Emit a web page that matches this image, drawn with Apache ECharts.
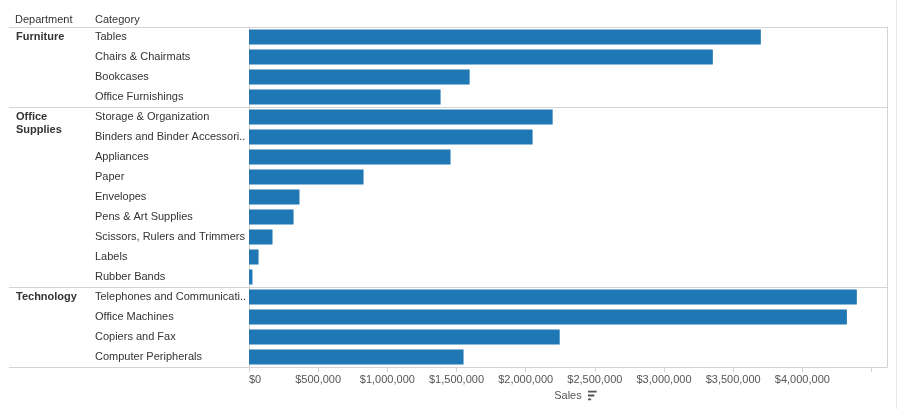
<!DOCTYPE html>
<html>
<head>
<meta charset="utf-8">
<script src="https://cdn.jsdelivr.net/npm/echarts@6/dist/echarts.min.js"></script>
<style>
  html, body { margin: 0; padding: 0; background: #fff; }
  #chart { width: 899px; height: 409px; }
</style>
</head>
<body>
<div id="chart"></div>
<script>
const categories = [
  'Tables', 'Chairs & Chairmats', 'Bookcases', 'Office Furnishings',
  'Storage & Organization', 'Binders and Binder Accessori..', 'Appliances', 'Paper',
  'Envelopes', 'Pens & Art Supplies', 'Scissors, Rulers and Trimmers', 'Labels', 'Rubber Bands',
  'Telephones and Communicati..', 'Office Machines', 'Copiers and Fax', 'Computer Peripherals'
];
const rowDepartments = [
  'Furniture', 'Furniture', 'Furniture', 'Furniture',
  'Office Supplies', 'Office Supplies', 'Office Supplies', 'Office Supplies', 'Office Supplies',
  'Office Supplies', 'Office Supplies', 'Office Supplies', 'Office Supplies',
  'Technology', 'Technology', 'Technology', 'Technology'
];
const departmentLabels = { 'Furniture': 'Furniture', 'Office Supplies': '\nOffice\nSupplies', 'Technology': 'Technology' };
const sales = [
  3700000, 3353000, 1595000, 1385000,
  2195000, 2050000, 1457000, 828000, 365000, 322000, 170000, 69000, 25000,
  4394000, 4322000, 2246000, 1551000
];
const tickLabels = ['$0', '$500,000', '$1,000,000', '$1,500,000', '$2,000,000', '$2,500,000', '$3,000,000', '$3,500,000', '$4,000,000'];
const tickStep = 500000;
const axisMax = 4612000;

const groupStarts = rowDepartments.map((d, i) => (i === 0 || rowDepartments[i - 1] !== d) ? i : -1).filter(i => i >= 0);

const FONT = "'Liberation Sans', Arial, sans-serif";
const LINE = '#d4d4d4';
const sortIcon = 'data:image/svg+xml;utf8,' + encodeURIComponent(
  '<svg xmlns="http://www.w3.org/2000/svg" width="9" height="10" viewBox="0 0 9 10">' +
  '<rect x="0" y="0" width="9" height="2" fill="#555"/>' +
  '<rect x="0" y="4" width="6.5" height="2" fill="#555"/>' +
  '<rect x="0" y="8" width="3.3" height="2" fill="#555"/></svg>');

const chart = echarts.init(document.getElementById('chart'), null, { renderer: 'canvas' });
chart.setOption({
  animation: false,
  backgroundColor: '#fff',
  textStyle: { fontFamily: FONT },
  title: [
    { text: 'Department', left: 15, top: 13, padding: 0,
      textStyle: { fontSize: 11, fontWeight: 'normal', color: '#333', fontFamily: FONT, lineHeight: 13 } },
    { text: 'Category', left: 95, top: 13, padding: 0,
      textStyle: { fontSize: 11, fontWeight: 'normal', color: '#333', fontFamily: FONT, lineHeight: 13 } }
  ],
  graphic: [
    { type: 'rect', shape: { x: 896, y: 0, width: 1, height: 409 }, style: { fill: '#e8e8e8' }, silent: true }
  ],
  grid: [
    { left: 249, right: 12, top: 27, bottom: 42, containLabel: false },
    { left: 9, right: 12, top: 27, bottom: 42, containLabel: false }
  ],
  xAxis: [
    {
      type: 'value', gridIndex: 0, min: 0, max: axisMax, interval: tickStep,
      axisLine: { show: true, lineStyle: { color: LINE } },
      axisTick: { show: true, length: 5, lineStyle: { color: LINE } },
      splitLine: { show: false },
      axisLabel: {
        fontSize: 11, color: '#555', fontFamily: FONT, margin: 7,
        alignMinLabel: 'left', showMaxLabel: false,
        formatter: v => {
          const i = Math.round(v / tickStep);
          return (Math.abs(v - i * tickStep) < 1 && i < tickLabels.length) ? tickLabels[i] : '';
        }
      },
      name: 'Sales  {i|}',
      nameLocation: 'middle',
      nameGap: 23,
      nameTextStyle: {
        fontSize: 11, color: '#555', fontFamily: FONT, padding: [0, 0, 0, 15],
        rich: { i: { width: 9, height: 10, backgroundColor: { image: sortIcon } } }
      }
    },
    { type: 'value', gridIndex: 1, show: false }
  ],
  yAxis: [
    {
      type: 'category', gridIndex: 0, data: categories, inverse: true,
      axisLine: { show: true, lineStyle: { color: LINE } },
      axisTick: { show: false },
      splitLine: { show: false },
      axisLabel: { align: 'left', margin: 154, fontSize: 11, color: '#333', fontFamily: FONT }
    },
    {
      type: 'category', gridIndex: 1, data: rowDepartments, inverse: true,
      axisLine: { show: false },
      axisTick: { show: false },
      splitLine: {
        show: true,
        interval: (idx) => groupStarts.indexOf(idx) >= 0,
        lineStyle: { color: LINE, width: 1 }
      },
      axisLabel: {
        align: 'left', margin: -7, fontSize: 11, fontWeight: 'bold', color: '#333',
        fontFamily: FONT, lineHeight: 13,
        interval: 0,
        formatter: (v, idx) => groupStarts.indexOf(idx) >= 0 ? departmentLabels[v] : ''
      }
    },
    {
      type: 'category', gridIndex: 0, data: categories, inverse: true, position: 'right',
      axisLine: { show: true, lineStyle: { color: LINE } },
      axisTick: { show: false },
      axisLabel: { show: false },
      splitLine: { show: false }
    }
  ],
  series: [
    {
      type: 'bar', xAxisIndex: 0, yAxisIndex: 0,
      data: sales, barWidth: 15,
      itemStyle: { color: '#1f77b4' },
      emphasis: { disabled: true }
    }
  ]
});
</script>
</body>
</html>
